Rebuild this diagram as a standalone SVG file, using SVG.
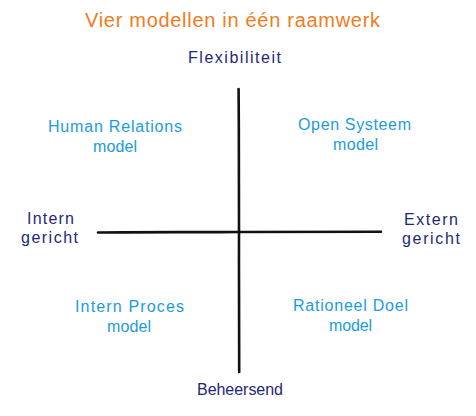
<svg xmlns="http://www.w3.org/2000/svg" width="476" height="416" viewBox="0 0 476 416">
<style>
text{font-family:"Liberation Sans","DejaVu Sans",sans-serif;}
.title{fill:#f07c1e;font-size:20px;}
.axis{fill:#1e2878;font-size:16px;}
.model{fill:#1a9ce0;font-size:16px;}
.line{fill:none;stroke:#111;stroke-width:2.6;stroke-linecap:round;}
</style>
<rect width="476" height="416" fill="#fff"/>
<text class="title" x="85" y="27" textLength="295" lengthAdjust="spacing">Vier modellen in één raamwerk</text>
<g id="connectors">
<path class="line" d="M238.6,89 C238.9,140 239.3,200 239,232 C238.8,280 239.4,330 239.2,372"/>
<path class="line" d="M98,232.5 C160,231.8 210,232.4 239,232 C290,231.6 340,232.2 381,231.8"/>
</g>
<g id="flexibiliteit"><text class="axis" x="188" y="63" textLength="93" lengthAdjust="spacing">Flexibiliteit</text></g>
<g id="beheersend"><text class="axis" x="197" y="395" textLength="86" lengthAdjust="spacing">Beheersend</text></g>
<g id="intern-gericht">
<text class="axis" x="27" y="224" textLength="47" lengthAdjust="spacing">Intern</text>
<text class="axis" x="21" y="243" textLength="57" lengthAdjust="spacing">gericht</text>
</g>
<g id="extern-gericht">
<text class="axis" x="404" y="225" textLength="54" lengthAdjust="spacing">Extern</text>
<text class="axis" x="402" y="244" textLength="58" lengthAdjust="spacing">gericht</text>
</g>
<g id="human-relations">
<text class="model" x="48" y="132" textLength="134" lengthAdjust="spacing">Human Relations</text>
<text class="model" x="93" y="152" textLength="44" lengthAdjust="spacing">model</text>
</g>
<g id="open-systeem">
<text class="model" x="298" y="130" textLength="113" lengthAdjust="spacing">Open Systeem</text>
<text class="model" x="333" y="150" textLength="45" lengthAdjust="spacing">model</text>
</g>
<g id="intern-proces">
<text class="model" x="75" y="312" textLength="109" lengthAdjust="spacing">Intern Proces</text>
<text class="model" x="107" y="332" textLength="44" lengthAdjust="spacing">model</text>
</g>
<g id="rationeel-doel">
<text class="model" x="293" y="311" textLength="115" lengthAdjust="spacing">Rationeel Doel</text>
<text class="model" x="329" y="331" textLength="43" lengthAdjust="spacing">model</text>
</g>
</svg>
